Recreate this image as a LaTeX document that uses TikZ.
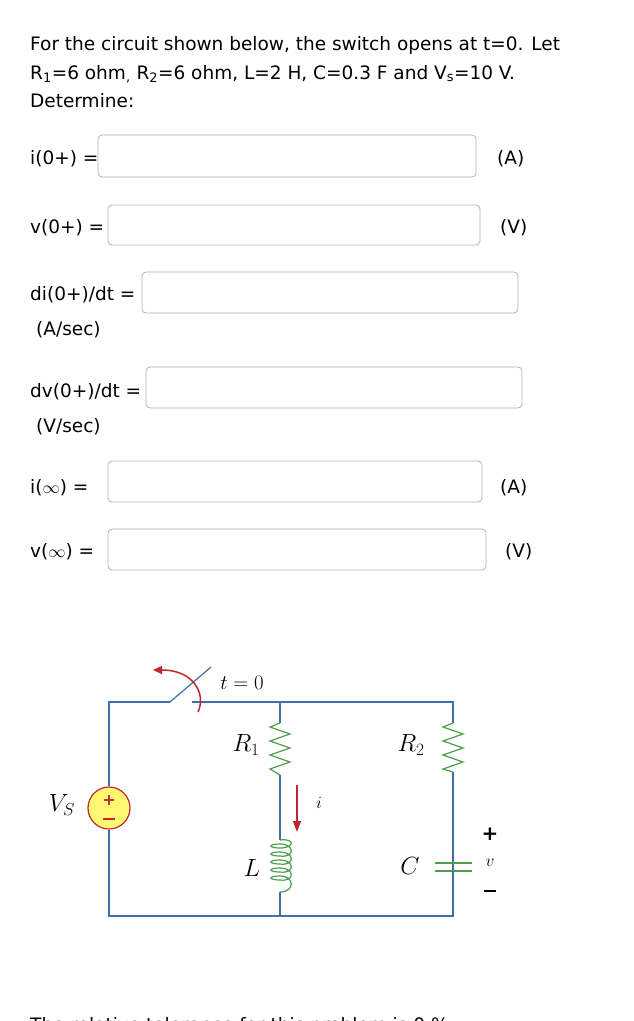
\documentclass[tikz,border=0pt]{standalone}
\usepackage{fontspec}
\setmainfont{DejaVu Sans}
\usetikzlibrary{decorations.pathmorphing,arrows.meta}
\definecolor{wire}{HTML}{3F6EA8}
\definecolor{comp}{HTML}{4C9E4C}
\definecolor{red1}{HTML}{C0282E}
\begin{document}
\begin{tikzpicture}[x=1pt,y=-1pt,
  txt/.style={anchor=base west,inner sep=0pt,font=\fontsize{18.5}{22}\selectfont},
  ans/.style={draw=gray!60,rounded corners=4pt,line width=0.8pt},
  w/.style={wire,line width=1.6pt},
  cp/.style={comp,line width=1.2pt},
  lab/.style={font=\fontfamily{lmr}\fontsize{25}{25}\selectfont}]
\useasboundingbox (0,0) rectangle (633,1021);
\fill[white] (0,0) rectangle (633,1021);
\node[txt] (l1) at (30,50) {For the circuit shown below, the switch opens at t=0. Let};
\node[txt] (l2) at (30,79) {R\textsubscript{1}=6 ohm\textsubscript{,} R\textsubscript{2}=6 ohm, L=2 H, C=0.3 F and V\textsubscript{s}=10 V.};
\node[txt] (l3) at (30,107) {Determine:};
% answers
\node[txt] (q1) at (30,164) {i(0+) =};
\draw[ans] (98,135) rectangle (476,177); \node[txt] (u1) at (497,164) {(A)};
\node[txt] (q2) at (30,233) {v(0+) =};
\draw[ans] (108,205) rectangle (480,245); \node[txt] (u2) at (500,233) {(V)};
\node[txt] (q3) at (30,300) {di(0+)/dt =};
\draw[ans] (142,272) rectangle (518,313); \node[txt] (u3) at (36,335) {(A/sec)};
\node[txt] (q4) at (30,397) {dv(0+)/dt =};
\draw[ans] (146,367) rectangle (522,408); \node[txt] (u4) at (36,432) {(V/sec)};
\node[txt] (q5) at (30,493) {i($\infty$) =};
\draw[ans] (108,461) rectangle (482,502); \node[txt] (u5) at (500,493) {(A)};
\node[txt] (q6) at (30,557) {v($\infty$) =};
\draw[ans] (108,529) rectangle (486,570); \node[txt] (u6) at (505,557) {(V)};
\node[txt] (bt) at (30,1031) {The relative tolerance for this problem is 0 \%};
% circuit
\coordinate (tl) at (109,702); \coordinate (bl) at (109,916);
\coordinate (tm) at (280,702); \coordinate (bm) at (280,916);
\coordinate (tr) at (453,702); \coordinate (br) at (453,916);
\coordinate (sw1) at (170,702); \coordinate (sw2) at (192,702);
\node[circle,draw=red1,fill=yellow!55,line width=1.2pt,minimum size=42pt,inner sep=0pt] (vs) at (109,808) {};
\node[red1,font=\bfseries\fontsize{16}{16}\selectfont] at (109,800) {+};
\draw[red1,line width=1.4pt] (103,819) -- (115,819);
\draw[w] (vs.north) -- (tl) -- (sw1);
\draw[wire,line width=1.2pt] (sw1) -- (211,667);
\draw[w] (sw2) -- (tr) -- (453,723);
\draw[w] (vs.south) -- (bl) -- (br) -- (453,863);
\draw[w] (tm) -- (280,723);
\draw[cp] (280,723) -- (270,727) -- (290,734) -- (270,741) -- (290,748) -- (270,755) -- (290,762) -- (270,769) -- (280,775);
\draw[w] (280,775) -- (280,840);
\draw[cp] (280,840) .. controls (295,838) and (295,848) .. (280,848)
  .. controls (268,848) and (268,844) .. (280,844)
  .. controls (295,844) and (295,858) .. (280,856)
  .. controls (268,856) and (268,852) .. (280,852)
  .. controls (295,852) and (295,866) .. (280,864)
  .. controls (268,864) and (268,860) .. (280,860)
  .. controls (295,860) and (295,874) .. (280,872)
  .. controls (268,872) and (268,868) .. (280,868)
  .. controls (295,868) and (295,882) .. (280,880)
  .. controls (268,880) and (268,876) .. (280,876)
  .. controls (295,876) and (295,892) .. (280,892);
\draw[w] (280,892) -- (bm);
\draw[cp] (453,723) -- (443,727) -- (463,734) -- (443,741) -- (463,748) -- (443,755) -- (463,762) -- (443,769) -- (453,772);
\draw[w] (453,772) -- (453,863);
\draw[cp] (435,863) -- (472,863); \draw[cp] (435,871) -- (472,871);
\draw[w] (453,871) -- (br);
\draw[red1,line width=1.5pt,-{Triangle[length=9pt,width=8pt]}] (198,712) .. controls (206,695) and (195,670) .. (153,670);
\node[font=\fontfamily{lmr}\fontsize{20}{20}\selectfont] (t0) at (242,683) {$t=0$};
\draw[red1,line width=1.5pt,-{Triangle[length=11pt,width=8pt]}] (297,785) -- (297,832);
\node[font=\fontfamily{lmr}\fontsize{18}{18}\selectfont] (il) at (319,803) {$i$};
\node[lab] (vsl) at (62,805) {$V_S$};
\node[lab] (r1) at (246,745) {$R_1$};
\node[lab] (r2) at (411,745) {$R_2$};
\node[lab] (ll) at (252,868) {$L$};
\node[lab] (cl) at (410,866) {$C$};
\node[font=\bfseries\fontsize{20}{20}\selectfont] (pl) at (490,834) {+};
\node[font=\fontfamily{lmr}\fontsize{18}{18}\selectfont] (vl) at (490,863) {$v$};
\draw[line width=1.4pt] (484,891) -- (496,891);
\end{tikzpicture}
\end{document}
